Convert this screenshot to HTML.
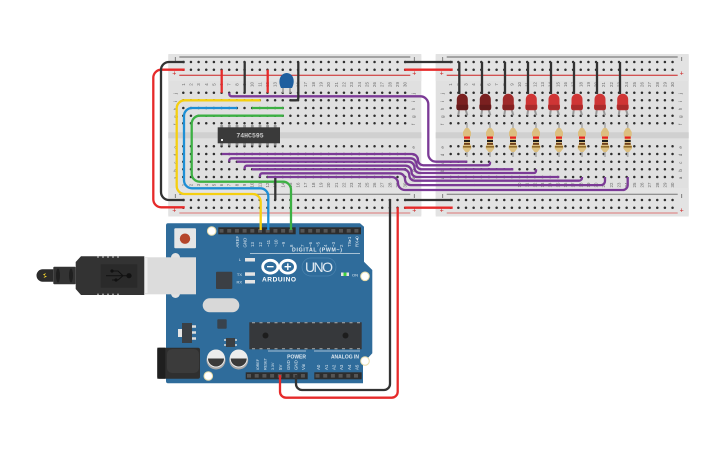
<!DOCTYPE html>
<html><head><meta charset="utf-8"><style>
html,body{margin:0;padding:0;background:#fff}
svg{display:block}
text{font-family:"Liberation Sans",sans-serif}
</style></head><body>
<svg width="725" height="453" viewBox="0 0 725 453" xmlns="http://www.w3.org/2000/svg">
<defs>
<g id="nums" font-size="4.4" fill="#666" text-anchor="middle">
<text transform="translate(16.5,0) rotate(-90)">1</text><text transform="translate(24.2,0) rotate(-90)">2</text><text transform="translate(31.8,0) rotate(-90)">3</text><text transform="translate(39.5,0) rotate(-90)">4</text><text transform="translate(47.1,0) rotate(-90)">5</text><text transform="translate(54.8,0) rotate(-90)">6</text><text transform="translate(62.4,0) rotate(-90)">7</text><text transform="translate(70.1,0) rotate(-90)">8</text><text transform="translate(77.7,0) rotate(-90)">9</text><text transform="translate(85.4,0) rotate(-90)">10</text><text transform="translate(93,0) rotate(-90)">11</text><text transform="translate(100.7,0) rotate(-90)">12</text><text transform="translate(108.3,0) rotate(-90)">13</text><text transform="translate(116,0) rotate(-90)">14</text><text transform="translate(123.6,0) rotate(-90)">15</text><text transform="translate(131.3,0) rotate(-90)">16</text><text transform="translate(138.9,0) rotate(-90)">17</text><text transform="translate(146.6,0) rotate(-90)">18</text><text transform="translate(154.2,0) rotate(-90)">19</text><text transform="translate(161.9,0) rotate(-90)">20</text><text transform="translate(169.5,0) rotate(-90)">21</text><text transform="translate(177.2,0) rotate(-90)">22</text><text transform="translate(184.8,0) rotate(-90)">23</text><text transform="translate(192.5,0) rotate(-90)">24</text><text transform="translate(200.1,0) rotate(-90)">25</text><text transform="translate(207.8,0) rotate(-90)">26</text><text transform="translate(215.4,0) rotate(-90)">27</text><text transform="translate(223.1,0) rotate(-90)">28</text><text transform="translate(230.7,0) rotate(-90)">29</text><text transform="translate(238.4,0) rotate(-90)">30</text>
</g>
<g id="letters" font-size="4.6" fill="#666" text-anchor="middle">
<text transform="translate(0,38.7) rotate(-90)">j</text><text transform="translate(0,46.3) rotate(-90)">i</text><text transform="translate(0,54) rotate(-90)">h</text><text transform="translate(0,61.7) rotate(-90)">g</text><text transform="translate(0,69.3) rotate(-90)">f</text><text transform="translate(0,92.3) rotate(-90)">e</text><text transform="translate(0,100) rotate(-90)">d</text><text transform="translate(0,107.7) rotate(-90)">c</text><text transform="translate(0,115.3) rotate(-90)">b</text><text transform="translate(0,123) rotate(-90)">a</text>
</g>
<g id="bb">
<rect x="0" y="0" width="253" height="162.5" rx="2" fill="#e0e0e0"/>
<rect x="0" y="0" width="253" height="27" fill="#e3e3e3"/>
<rect x="0" y="134" width="253" height="28.5" fill="#e3e3e3"/>
<rect x="0" y="78.3" width="253" height="6" fill="#d0d0d0"/>
<path d="M11 3H242" stroke="#666" stroke-width="1"/>
<path d="M11 21.3H242" stroke="#c22" stroke-width="1"/>
<path d="M11 140.3H242" stroke="#777" stroke-width="1"/>
<path d="M11 159H242" stroke="#d77" stroke-width="1"/>
<g stroke="#2e2e2e" stroke-width="2.5" stroke-linecap="round" stroke-dasharray="0 7.65" fill="none">
<path d="M15 8H242M15 15.7H242M15 146H242M15 153.7H242"/>
<path d="M15 38.7H242M15 46.3H242M15 54H242M15 61.7H242M15 69.3H242"/>
<path d="M15 92.3H242M15 100H242M15 107.7H242M15 115.3H242M15 123H242"/>
</g>
<use href="#nums" x="0" y="30.5"/>
<use href="#nums" x="0" y="131"/>
<use href="#letters" x="8.5" y="1"/>
<use href="#letters" x="246.5" y="1"/>
<g font-size="7" fill="#c22" text-anchor="middle"><text x="6" y="21.5">+</text><text x="246" y="21.5">+</text><text x="6" y="158.5">+</text><text x="246" y="158.5">+</text></g>
<path d="M7 3V7M246 3V7M7 140V144M246 140V144" stroke="#666" stroke-width=".8"/>
</g>
<g id="led">
<path d="M-3 14L-4 21M3 14L5 21" stroke="#999" stroke-width="2"/>
<path d="M-5.5 10V5A5.5 5.5 0 0 1 5.5 5V10Z"/>
<rect x="-6" y="9" width="12" height="7" rx="2.5"/>
<path d="M-5.5 10.5H5.5V15.5H-5.5Z" fill="#000" opacity=".18"/>
</g>
<g id="res">
<path d="M0 -4V30" stroke="#aaa" stroke-width="1.6"/>
<path d="M-2 1.5Q0 0 2 1.5L4 5V8.5L3 10V17L4.3 19V21.5L1.5 25H-1.5L-4.3 21.5V19L-3 17V10L-4 8.5V5Z" fill="#dcbf80"/>
<rect x="-3" y="9.5" width="6" height="2.2" fill="#e82020"/>
<rect x="-3" y="13" width="6" height="2" fill="#1e1e1e"/>
<rect x="-3" y="16" width="6" height="1.8" fill="#6d3f1c"/>
<rect x="-4" y="19" width="8" height="1.6" fill="#8f6a2a"/>
</g>
</defs>

<use href="#bb" x="168.3" y="54"/>
<use href="#bb" x="435.7" y="54"/>

<!-- chip -->
<path d="M221.7 125V145.5M229.3 125V145.5M237 125V145.5M244.6 125V145.5M252.3 125V145.5M260 125V145.5M267.6 125V145.5M275.2 125V145.5" stroke="#999" stroke-width="2.8"/>
<rect x="217.7" y="127.3" width="62.3" height="16" fill="#3a3a3a"/>
<rect x="221" y="139" width="2" height="2" fill="#eee"/>
<text x="250" y="137.5" font-size="6.5" font-weight="bold" fill="#ccc" text-anchor="middle" style="font-family:'Liberation Mono',monospace">74HC595</text>
<!-- cap -->
<path d="M283 86V93M290 86V93" stroke="#999" stroke-width="1.6"/>
<path d="M281 88C277 80 281 73 286.7 73C292.5 73 296 80 292 88Z" fill="#1f5f9f"/>

<!-- LEDs -->
<g fill="#7a2020"><use href="#led" x="462.3" y="94.3"/><use href="#led" x="485.3" y="94.3"/></g>
<g fill="#a02a2a"><use href="#led" x="508.3" y="94.3"/></g>
<g fill="#cf3535"><use href="#led" x="531.3" y="94.3"/><use href="#led" x="554" y="94.3"/><use href="#led" x="577" y="94.3"/><use href="#led" x="600" y="94.3"/><use href="#led" x="622.7" y="94.3"/></g>
<use href="#res" x="467" y="127"/><use href="#res" x="490" y="127"/><use href="#res" x="513" y="127"/><use href="#res" x="536" y="127"/><use href="#res" x="559" y="127"/><use href="#res" x="582" y="127"/><use href="#res" x="605" y="127"/><use href="#res" x="627.7" y="127"/>

<!-- Arduino -->
<path d="M168 223.3H360L364 226.7V261.7L372.3 270V353.3L363 363.3V383.3H168Q166 383.3 166 381V225.5Q166 223.3 168 223.3Z" fill="#2f6c9b"/>
<g fill="#2d2d2d">
<rect x="218.3" y="227.3" width="77.4" height="7"/><rect x="299.3" y="227.3" width="61.7" height="7"/>
<rect x="245.7" y="372.3" width="62" height="7"/><rect x="314.3" y="372.3" width="47.4" height="7"/>
</g>
<g stroke="#555" stroke-width="3.6" stroke-dasharray="4 3.7" fill="none">
<path d="M219.5 230.8H295M300.5 230.8H361M247 375.8H307M315.5 375.8H361"/>
</g>
<rect x="174.3" y="228.3" width="21.7" height="20" rx="1" fill="#e6e6e6"/>
<circle cx="185" cy="238.7" r="5.2" fill="#b5452a"/>
<g fill="#fff" stroke="#e8dca8" stroke-width="1"><circle cx="211.7" cy="231" r="4.3"/><circle cx="208.3" cy="376" r="4.3"/><circle cx="365" cy="276.3" r="4.3"/><circle cx="365" cy="361" r="4.3"/></g>
<rect x="216" y="271.7" width="16.3" height="17.3" rx="1" fill="#3b3f44"/>
<rect x="202.7" y="298.3" width="36.6" height="14" rx="7" fill="#d8d8d8"/>
<rect x="217.3" y="319.3" width="9.4" height="9.4" rx="1" fill="#38424c"/>
<rect x="178" y="329" width="4" height="8" fill="#e6e6e6"/><rect x="182" y="323" width="10" height="20" fill="#3a3f44"/>
<path d="M192 326.5h4M192 332.5h4M192 338.5h4" stroke="#ddd" stroke-width="2.6"/>
<rect x="226" y="338" width="9" height="9" fill="#3a3f44"/>
<path d="M226 340h-2M226 345h-2M235 340h2M235 345h2" stroke="#ddd" stroke-width="1.5"/>
<!-- jack -->
<rect x="157.3" y="347.7" width="42.7" height="31" rx="2" fill="#2f2f2f"/>
<rect x="157.3" y="347.7" width="8" height="31" fill="#1f1f1f"/>
<rect x="167" y="349" width="32" height="24" rx="5" fill="#3b3b3b"/>
<!-- caps -->
<g><circle cx="216" cy="360" r="9.5" fill="#a8a8a8"/><circle cx="216" cy="358.5" r="9" fill="#ececec"/><path d="M208 358.5H224A8 8 0 0 1 208 358.5Z" fill="#3a3a3a"/></g>
<g><circle cx="238.7" cy="360" r="9.5" fill="#a8a8a8"/><circle cx="238.7" cy="358.5" r="9" fill="#ececec"/><path d="M230.7 358.5H246.7A8 8 0 0 1 230.7 358.5Z" fill="#3a3a3a"/></g>
<!-- big chip -->
<rect x="249.3" y="322.3" width="112.4" height="27" fill="#36383b"/>
<path d="M252 322.8H360M252 348.8H360" stroke="#aaa" stroke-width="1" stroke-dasharray="3 4.5"/>
<circle cx="265.5" cy="335.5" r="3" fill="#1d1d1d"/><circle cx="345.5" cy="335.5" r="3" fill="#1d1d1d"/>
<!-- leds -->
<g fill="#e4e4e4"><rect x="245" y="258" width="10" height="3.5"/><rect x="245" y="272.3" width="10" height="3.5"/><rect x="245" y="280" width="10" height="3.5"/><rect x="341" y="272.5" width="8" height="3.5"/></g>
<rect x="343.5" y="272.5" width="3" height="3.5" fill="#3fd13f"/>
<!-- logo -->
<g fill="none" stroke="#fff" stroke-width="2.8"><ellipse cx="270.3" cy="266.7" rx="7.6" ry="6.4"/><ellipse cx="287.8" cy="266.7" rx="7.6" ry="6.4"/></g>
<path d="M267 266.7h6.6M284.5 266.7h6.6M287.8 263.4v6.6" stroke="#fff" stroke-width="1.4"/>
<rect x="302" y="258" width="34" height="18" rx="9" fill="none" stroke="#4a82ad" stroke-width=".7"/>
<text x="262" y="281.7" font-size="6.6" font-weight="bold" fill="#fff" textLength="34">ARDUINO</text>
<text x="319" y="271.8" font-size="14" fill="#dfe9f1" text-anchor="middle" textLength="28">UNO</text>
<text x="352" y="276.3" font-size="4" fill="#dfe9f1">ON</text>
<text x="241" y="261" font-size="4" fill="#dfe9f1" text-anchor="end">L</text>
<text x="242" y="276" font-size="4" fill="#dfe9f1" text-anchor="end">TX</text>
<text x="242" y="283.5" font-size="4" fill="#dfe9f1" text-anchor="end">RX</text>
<text x="292" y="251.3" font-size="5.2" font-weight="bold" fill="#dfe9f1" textLength="50">DIGITAL (PWM~)</text>
<path d="M250 253.5H360M268 351H306M314 351H360" stroke="#cfdde8" stroke-width=".7"/>
<text x="306" y="358.5" font-size="5" font-weight="bold" fill="#dfe9f1" text-anchor="end">POWER</text>
<text x="359" y="358.5" font-size="5" font-weight="bold" fill="#dfe9f1" text-anchor="end">ANALOG IN</text>
<g font-size="4.4" fill="#dfe9f1" text-anchor="end">
<text transform="translate(239,238) rotate(-90)" text-anchor="start" x="-9.5">AREF</text>
<text transform="translate(246.5,238) rotate(-90)" text-anchor="start" x="-9.5">GND</text>
<text transform="translate(254,247) rotate(-90)" text-anchor="start">13</text>
<text transform="translate(262,247) rotate(-90)" text-anchor="start">12</text>
<text transform="translate(270,247) rotate(-90)" text-anchor="start">~11</text>
<text transform="translate(277.5,247) rotate(-90)" text-anchor="start">~10</text>
<text transform="translate(285,247) rotate(-90)" text-anchor="start">~9</text>
<text transform="translate(293,247) rotate(-90)" text-anchor="start">8</text>
<text transform="translate(304,247) rotate(-90)" text-anchor="start">7</text>
<text transform="translate(312,247) rotate(-90)" text-anchor="start">~6</text>
<text transform="translate(319.5,247) rotate(-90)" text-anchor="start">~5</text>
<text transform="translate(327,247) rotate(-90)" text-anchor="start">4</text>
<text transform="translate(335,247) rotate(-90)" text-anchor="start">~3</text>
<text transform="translate(343,247) rotate(-90)" text-anchor="start">2</text>
<text transform="translate(351,247) rotate(-90)" text-anchor="start">TX▸1</text>
<text transform="translate(358.5,247) rotate(-90)" text-anchor="start">RX◂0</text>
<text transform="translate(259,370) rotate(-90)" text-anchor="start" font-size="3.6">IOREF</text>
<text transform="translate(266.5,370) rotate(-90)" text-anchor="start" font-size="3.6">RESET</text>
<text transform="translate(274,370) rotate(-90)" text-anchor="start" font-size="3.6">3.3V</text>
<text transform="translate(282,370) rotate(-90)" text-anchor="start">5V</text>
<text transform="translate(290,370) rotate(-90)" text-anchor="start">GND</text>
<text transform="translate(297.5,370) rotate(-90)" text-anchor="start">GND</text>
<text transform="translate(305,370) rotate(-90)" text-anchor="start">Vin</text>
<text transform="translate(320,370) rotate(-90)" text-anchor="start">A0</text>
<text transform="translate(328,370) rotate(-90)" text-anchor="start">A1</text>
<text transform="translate(335.5,370) rotate(-90)" text-anchor="start">A2</text>
<text transform="translate(343,370) rotate(-90)" text-anchor="start">A3</text>
<text transform="translate(351,370) rotate(-90)" text-anchor="start">A4</text>
<text transform="translate(358.5,370) rotate(-90)" text-anchor="start">A5</text>
</g>

<!-- USB -->
<rect x="171" y="253" width="9" height="45" rx="4.5" fill="#e2e2e2"/>
<rect x="145" y="257.3" width="51" height="37" fill="#dcdcdc"/>
<rect x="144.5" y="258" width="3" height="35" fill="#eee"/>
<path d="M81 256.3H144.3V295H81L75.7 289V262Z" fill="#333"/>
<rect x="100.7" y="264.3" width="36.6" height="23.4" fill="#2a2a2a"/>
<path d="M98 256.3v1.4M103 256.3v1.4M108 256.3v1.4M113 256.3v1.4M118 256.3v1.4M98 293.6v1.4M103 293.6v1.4M108 293.6v1.4M113 293.6v1.4M118 293.6v1.4" stroke="#fff" stroke-width="1"/>
<path d="M106 275.7H130M112 271L118 271L123 275.7L118 280L112 280" fill="none" stroke="#111" stroke-width="1"/>
<circle cx="129" cy="275.7" r="2.6" fill="#111"/><circle cx="112" cy="271" r="1.6" fill="#111"/><circle cx="116" cy="280" r="1.6" fill="#111"/>
<rect x="53.3" y="266.7" width="22.4" height="17.6" rx="1" fill="#333"/>
<ellipse cx="58" cy="275.5" rx="2" ry="7" fill="#1f1f1f"/><ellipse cx="71" cy="275.5" rx="2" ry="7" fill="#1f1f1f"/>
<path d="M53.3 269.3H42.7A6 6 0 0 0 42.7 281.7H53.3Z" fill="#2b2b2b"/>
<path d="M43 274.5L46 273L44.5 275.5L47 276.5L43.5 278L45 276Z" fill="#f2d32e"/>

<!-- wires -->
<g fill="none" stroke-width="2.3" stroke-linejoin="round">
<g stroke="#7b3a96">
<path d="M229.3 92.7V94a2.3 2.3 0 0 0 2.3 2.3H420a8 8 0 0 1 8.3 8.3V154a7.7 7.7 0 0 0 7.7 7.7H467.3"/>
<path d="M221.7 154H412a6 6 0 0 1 6 6 5.3 5.3 0 0 0 5.3 5.3H488a2 2 0 0 0 2-2V161.7"/>
<path d="M229.3 161.7V160.3a2 2 0 0 1 2-2H410.5a6 6 0 0 1 6 6 5 5 0 0 0 5 5H513.3"/>
<path d="M236.7 161.7H408.5a6 6 0 0 1 6 6 5.3 5.3 0 0 0 5.3 5.3H534a2 2 0 0 0 2-2V169.3"/>
<path d="M244.7 169.3V167.7a2 2 0 0 1 2-2H405.5a6 6 0 0 1 6 6 5.3 5.3 0 0 0 5.3 5.3H559.3"/>
<path d="M252 169.3H403.3a6 6 0 0 1 6 6 5.4 5.4 0 0 0 5.4 5.4H579a3 3 0 0 0 3-3V177"/>
<path d="M260 177V175.3a2 2 0 0 1 2-2H399a6 6 0 0 1 6 6 5.8 5.8 0 0 0 5.8 5.8H601a4 4 0 0 0 4-4V177"/>
<path d="M267.3 177H392a6 6 0 0 1 6 6 7 7 0 0 0 7 7H622.7a5 5 0 0 0 5-5V177"/>
</g>
<g stroke="#f5cf10"><path d="M260.7 100.3H184.7a8 8 0 0 0-8 8V186a8 8 0 0 0 8 8H252.7a8 8 0 0 1 8 8V230"/></g>
<g stroke="#1e8fd5"><path d="M237.3 108H192a8 8 0 0 0-8 8V180.3a8 8 0 0 0 8 8H260.3a8 8 0 0 1 8 8V230"/></g>
<g stroke="#3cb043"><path d="M251.7 108H283.7"/><path d="M283.7 115.7H199.7a8 8 0 0 0-8 8V173.7a8 8 0 0 0 8 8H283a8 8 0 0 1 8 8V230"/></g>
<g stroke="#e62a2a">
<path d="M184.7 69.7H161.3a8 8 0 0 0-8 8V199.3a8 8 0 0 0 8 8H184.7"/>
<path d="M221.7 69.7V92.7M267.7 69.7V92.7"/>
<path d="M404.3 69.7H452.7M404.3 207.7H452.7"/>
<path d="M397.7 207.3V391.7a6 6 0 0 1-6 6H286a6 6 0 0 1-6-6V375"/>
</g>
<g stroke="#333">
<path d="M184.7 62H169a8 8 0 0 0-8 8V192a8 8 0 0 0 8 8H184.7"/>
<path d="M244.7 62V92.7"/>
<path d="M298.3 62V98.3a2 2 0 0 1-2 2H290.7"/>
<path d="M275.3 178V200"/>
<path d="M404.3 62H452.7M404.3 200H452.7"/>
<path d="M390 199V384a6 6 0 0 1-6 6H302a6 6 0 0 1-6-6V375"/>
<path d="M459.3 62V94M482 62V94M505 62V94M528 62V94M551 62V94M574 62V94M597 62V94M620 62V94"/>
</g>
</g>
</svg>
</body></html>
